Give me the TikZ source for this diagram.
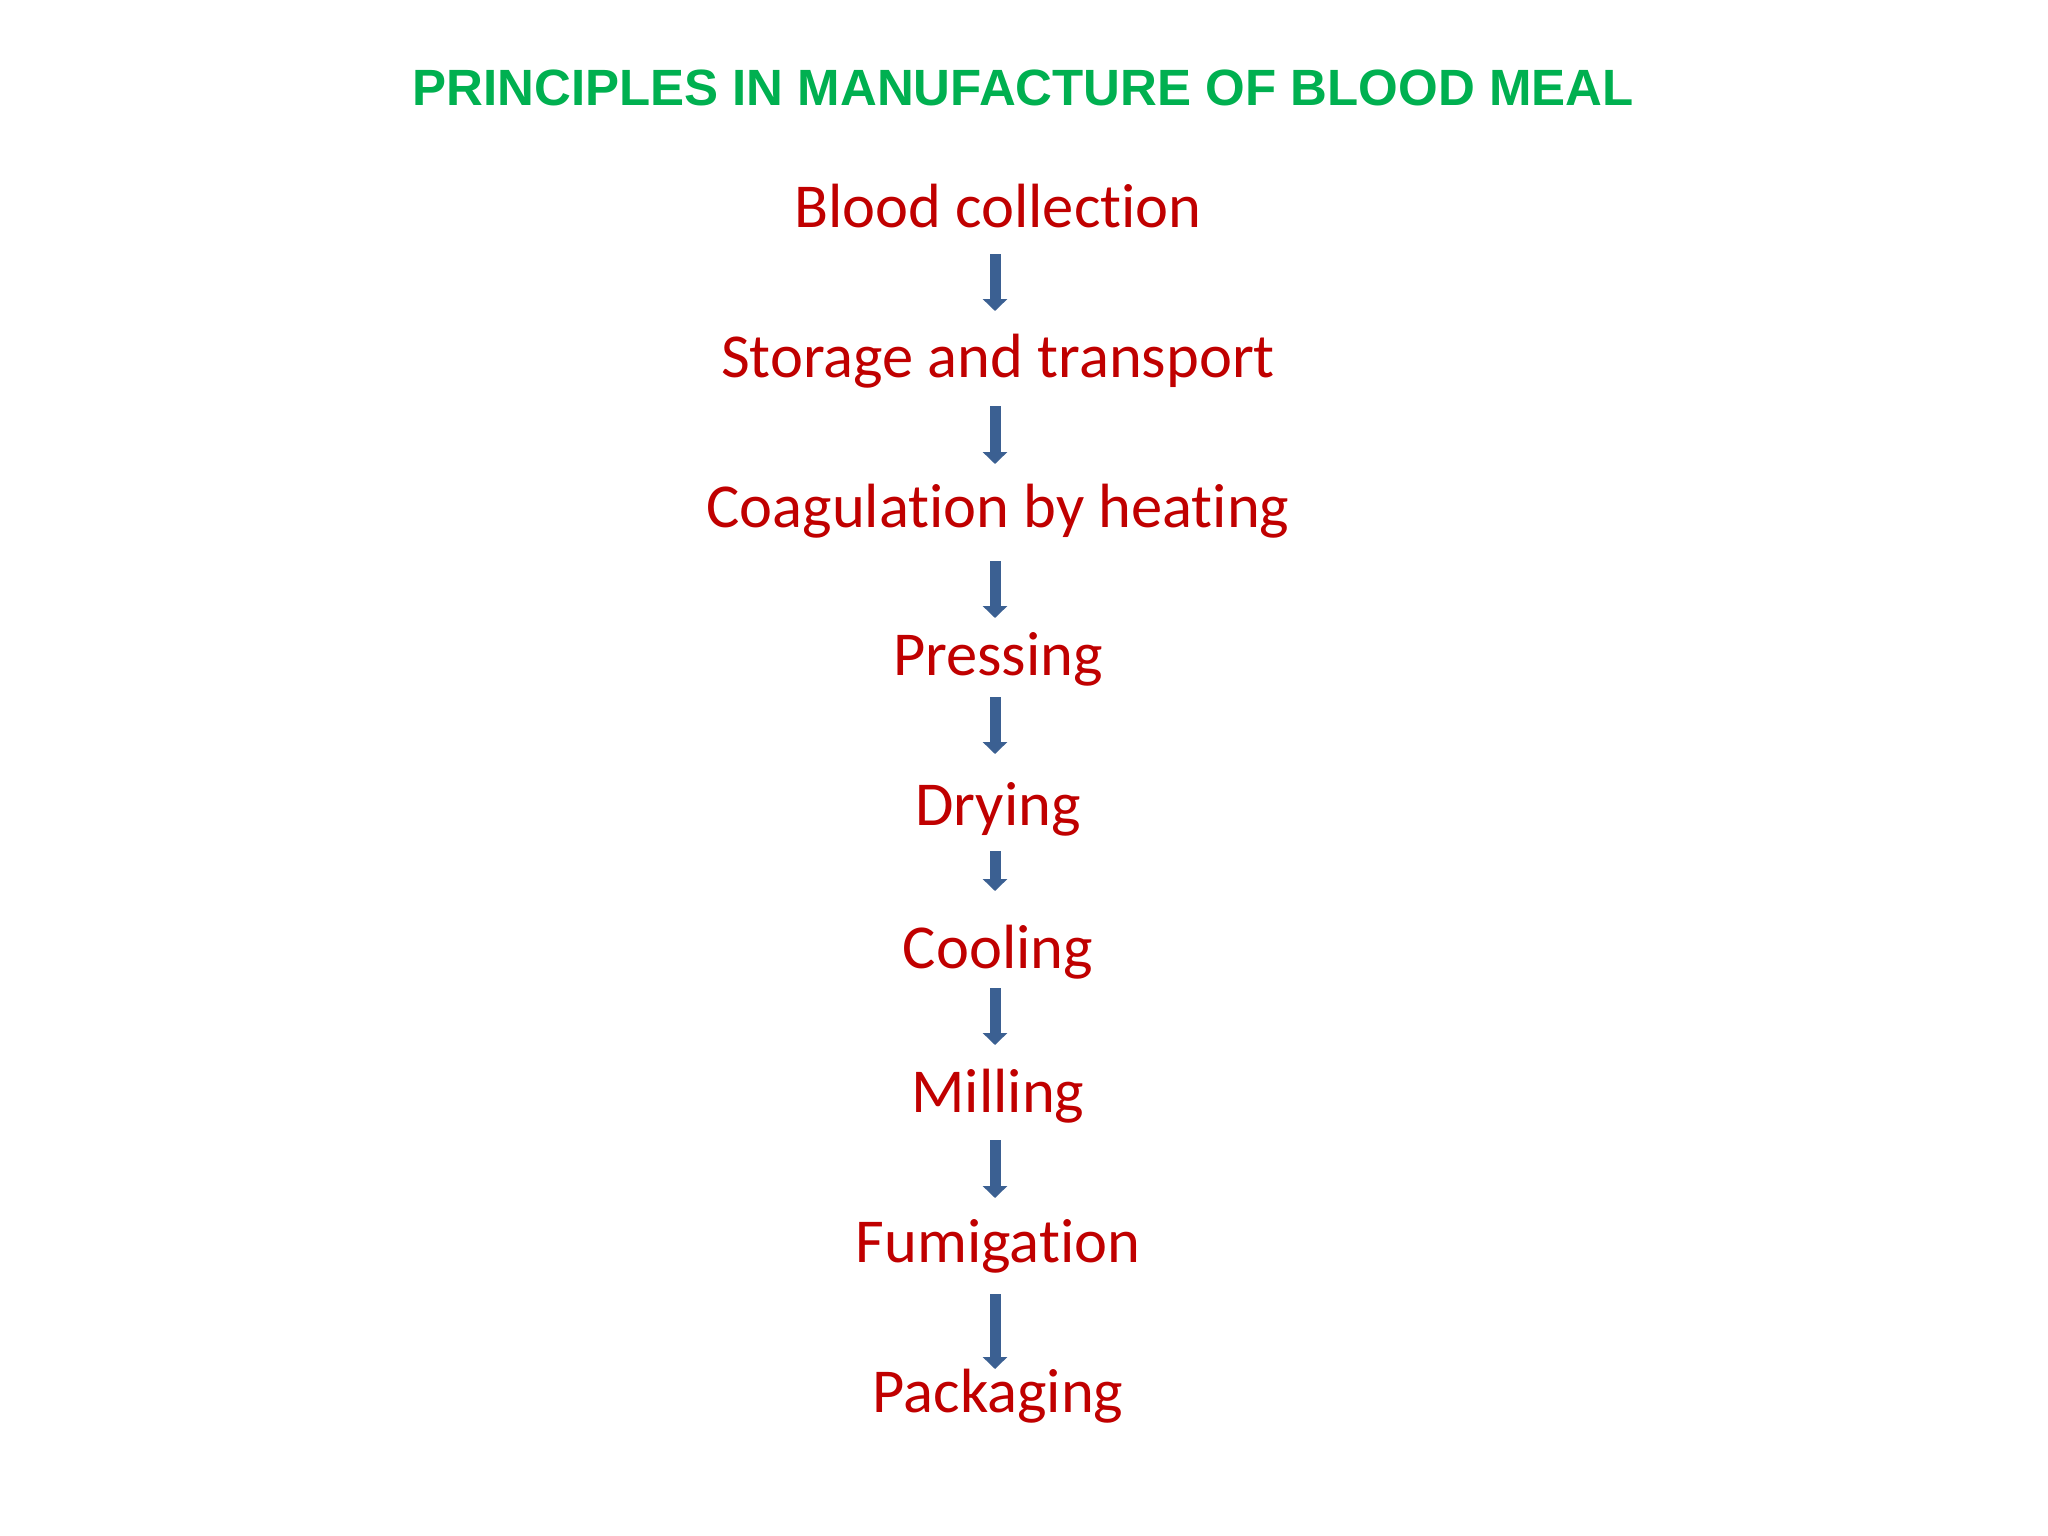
\documentclass[tikz,border=0pt]{standalone}
\usepackage{fontspec}
\setmainfont[Ligatures=NoCommon]{Carlito}
\newfontfamily\titlefont{Liberation Sans}
\usetikzlibrary{arrows.meta}
\definecolor{stepred}{HTML}{C00000}
\definecolor{titlegreen}{HTML}{00B050}
\definecolor{arrowblue}{HTML}{3B6092}
\tikzset{
  stepbox/.style={anchor=base, inner sep=0pt, text=stepred, font=\fontsize{62.5}{70}\selectfont},
  titlebox/.style={anchor=base, inner sep=0pt, text=titlegreen, font=\titlefont\bfseries\fontsize{51}{60}\selectfont},
  flow/.style={draw=arrowblue, line width=11pt, -{Triangle[width=24pt,length=12pt,fill=arrowblue]}}
}
\begin{document}
\begin{tikzpicture}[x=1pt,y=-1pt]
\useasboundingbox[fill=white] (0,0) rectangle (2048,1536);
\node[titlebox] (title) at (1023,106) {PRINCIPLES IN MANUFACTURE OF BLOOD MEAL};
\node[stepbox] (s1) at (998,227) {Blood collection};
\node[stepbox] (s2) at (998,377) {Storage and transport};
\node[stepbox] (s3) at (998,527) {Coagulation by heating};
\node[stepbox] (s4) at (998,675) {Pressing};
\node[stepbox] (s5) at (998,825) {Drying};
\node[stepbox] (s6) at (998,968) {Cooling};
\node[stepbox] (s7) at (998,1112) {Milling};
\node[stepbox] (s8) at (998,1262) {Fumigation};
\node[stepbox] (s9) at (998,1412) {Packaging};
\coordinate (a1s) at (995,254);  \coordinate (a1e) at (995,311);
\coordinate (a2s) at (995,406);  \coordinate (a2e) at (995,464);
\coordinate (a3s) at (995,561);  \coordinate (a3e) at (995,618);
\coordinate (a4s) at (995,697);  \coordinate (a4e) at (995,754);
\coordinate (a5s) at (995,851);  \coordinate (a5e) at (995,891);
\coordinate (a6s) at (995,988);  \coordinate (a6e) at (995,1045);
\coordinate (a7s) at (995,1140); \coordinate (a7e) at (995,1198);
\coordinate (a8s) at (995,1294); \coordinate (a8e) at (995,1369);
\foreach \i in {1,...,8} { \draw[flow] (a\i s) -- (a\i e); }
\end{tikzpicture}
\end{document}
